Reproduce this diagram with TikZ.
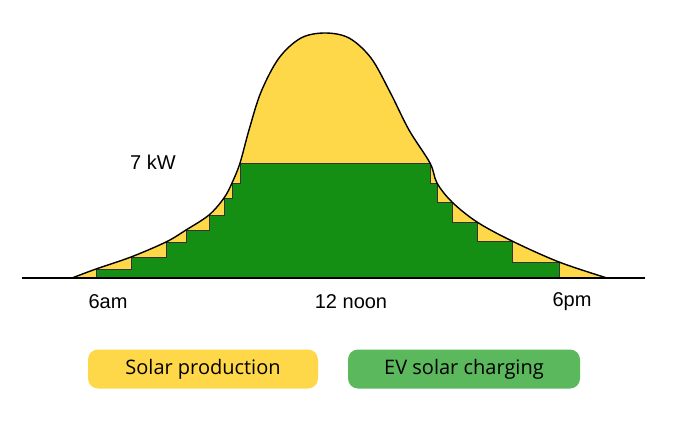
\documentclass[tikz,border=0pt]{standalone}
\usepackage{fontspec}
\setmainfont{Liberation Sans}
\newfontfamily\legfont{Open Sans}
\definecolor{solar}{HTML}{FFD84A}
\definecolor{evg}{HTML}{148F14}
\definecolor{legg}{HTML}{5CB85C}
\begin{document}
\begin{tikzpicture}[x=1pt,y=-1pt,
  lbl/.style={font=\fontsize{20}{24}\selectfont},
  leg/.style={rounded corners=10pt,minimum height=39pt,inner sep=0pt,font=\legfont\fontsize{20}{24}\selectfont}]
\useasboundingbox (0,0) rectangle (674,420);
\def\curvepts{(72,278) (96,269) (131,257) (166,242) (186,230) (209,215) (224,198) (232,183) (240,163) (249,130) (261,92) (279,58) (301,38) (325,33) (349,38) (371,58) (390,92) (409,130) (430,163) (437,183) (452,202) (477,222) (512,241) (559,262) (607,278)}
\fill[solar] plot[smooth,tension=0.55] coordinates {\curvepts} -- cycle;
\draw[fill=evg,draw=black!80,line width=0.8pt] (96,278) -- (96,269) -- (131,269) -- (131,257) -- (166,257) -- (166,242) -- (186,242) -- (186,230) -- (209,230) -- (209,215) -- (224,215) -- (224,198) -- (232,198) -- (232,183) -- (240,183) -- (240,163) -- (430,163) -- (430,183) -- (437,183) -- (437,202) -- (452,202) -- (452,222) -- (477,222) -- (477,241) -- (512,241) -- (512,262) -- (559,262) -- (559,278) -- cycle;
\draw[line width=1.4pt] plot[smooth,tension=0.55] coordinates {\curvepts};
\draw[line width=2pt] (22,278) -- (645,278);
\node[lbl] (kw) at (153,162) {7 kW};
\node[lbl] (am) at (108,302) {6am};
\node[lbl] (noon) at (351,302) {12 noon};
\node[lbl] (pm) at (572,302) {6pm};
\node[leg,fill=solar,minimum width=230pt] (l1) at (203,369) {Solar production};
\node[leg,fill=legg,minimum width=232pt] (l2) at (464,369) {EV solar charging};
\end{tikzpicture}
\end{document}
